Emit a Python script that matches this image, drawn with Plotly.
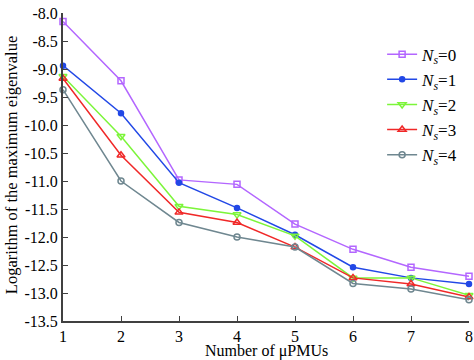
import plotly.graph_objects as go

x_pmus = [1, 2, 3, 4, 5, 6, 7, 8]
ns0 = [-8.15, -9.21, -10.98, -11.06, -11.77, -12.22, -12.54, -12.70]
ns1 = [-8.94, -9.79, -11.03, -11.48, -11.96, -12.54, -12.73, -12.84]
ns2 = [-9.13, -10.20, -11.45, -11.60, -11.98, -12.73, -12.73, -13.04]
ns3 = [-9.17, -10.54, -11.56, -11.74, -12.18, -12.73, -12.84, -13.07]
ns4 = [-9.37, -11.00, -11.74, -12.00, -12.18, -12.83, -12.93, -13.12]

series_names = ["<i>N<sub>s</sub></i>=0", "<i>N<sub>s</sub></i>=1", "<i>N<sub>s</sub></i>=2",
                "<i>N<sub>s</sub></i>=3", "<i>N<sub>s</sub></i>=4"]
y_tickvals = [-8.0, -8.5, -9.0, -9.5, -10.0, -10.5, -11.0, -11.5, -12.0, -12.5, -13.0, -13.5]
y_ticktext = ["-8.0", "-8.5", "-9.0", "-9.5", "-10.0", "-10.5", "-11.0", "-11.5",
              "-12.0", "-12.5", "-13.0", "-13.5"]
x_title = "Number of μPMUs"
y_title = "Logarithm of the maximum eigenvalue"

colors = ["#b366ff", "#2248e6", "#7cf53a", "#f02828", "#6f8790"]
symbols = ["square-open", "circle", "triangle-down-open", "triangle-up-open", "circle-open"]
sizes = [6, 5, 7, 7, 6]

fig = go.Figure()
for name, ys, c, s, sz in zip(series_names, [ns0, ns1, ns2, ns3, ns4], colors, symbols, sizes):
    fig.add_trace(go.Scatter(
        x=x_pmus, y=ys, name=name, mode="lines+markers",
        line=dict(color=c, width=1.5),
        marker=dict(symbol=s, size=sz, color=c, line=dict(color=c, width=1.5)),
        cliponaxis=False,
    ))

ff = "Liberation Serif"
plot_w = 474 - 63 - 5
plot_h = 360 - 13 - 39
fig.update_layout(
    width=474, height=360,
    margin=dict(l=63, r=5, t=13, b=39),
    paper_bgcolor="white", plot_bgcolor="white",
    font=dict(family=ff, size=16, color="black"),
    showlegend=True,
    legend=dict(x=0.786, y=0.923, xanchor="left", yanchor="top",
                bgcolor="rgba(0,0,0,0)", borderwidth=0,
                font=dict(family=ff, size=17, color="black"), tracegroupgap=0),
    xaxis=dict(range=[1, 8], tickvals=x_pmus, ticks="inside", ticklen=5,
               tickcolor="#404040", showline=True, linecolor="#404040", linewidth=2,
               showgrid=False, zeroline=False, automargin=False,
               tickfont=dict(family=ff, size=16, color="black")),
    yaxis=dict(range=[-13.5, -8.0], tickvals=y_tickvals, ticktext=y_ticktext,
               ticks="inside", ticklen=5, tickcolor="#404040",
               showline=True, linecolor="#404040", linewidth=2,
               showgrid=False, zeroline=False, automargin=False,
               tickfont=dict(family=ff, size=16, color="black")),
    annotations=[
        dict(text=x_title, xref="paper", yref="paper", x=0.5, y=-(351 - 321) / plot_h,
             xanchor="center", yanchor="middle", showarrow=False,
             font=dict(family=ff, size=16, color="black")),
        dict(text=y_title, xref="paper", yref="paper", x=-(63 - 11) / plot_w, y=0.506,
             xanchor="center", yanchor="middle", showarrow=False, textangle=-90,
             font=dict(family=ff, size=16.5, color="black")),
    ],
)

fig.write_html("out.html", config={"displayModeBar": False},
               post_script="document.body.style.margin='0';document.body.style.padding='0';")
